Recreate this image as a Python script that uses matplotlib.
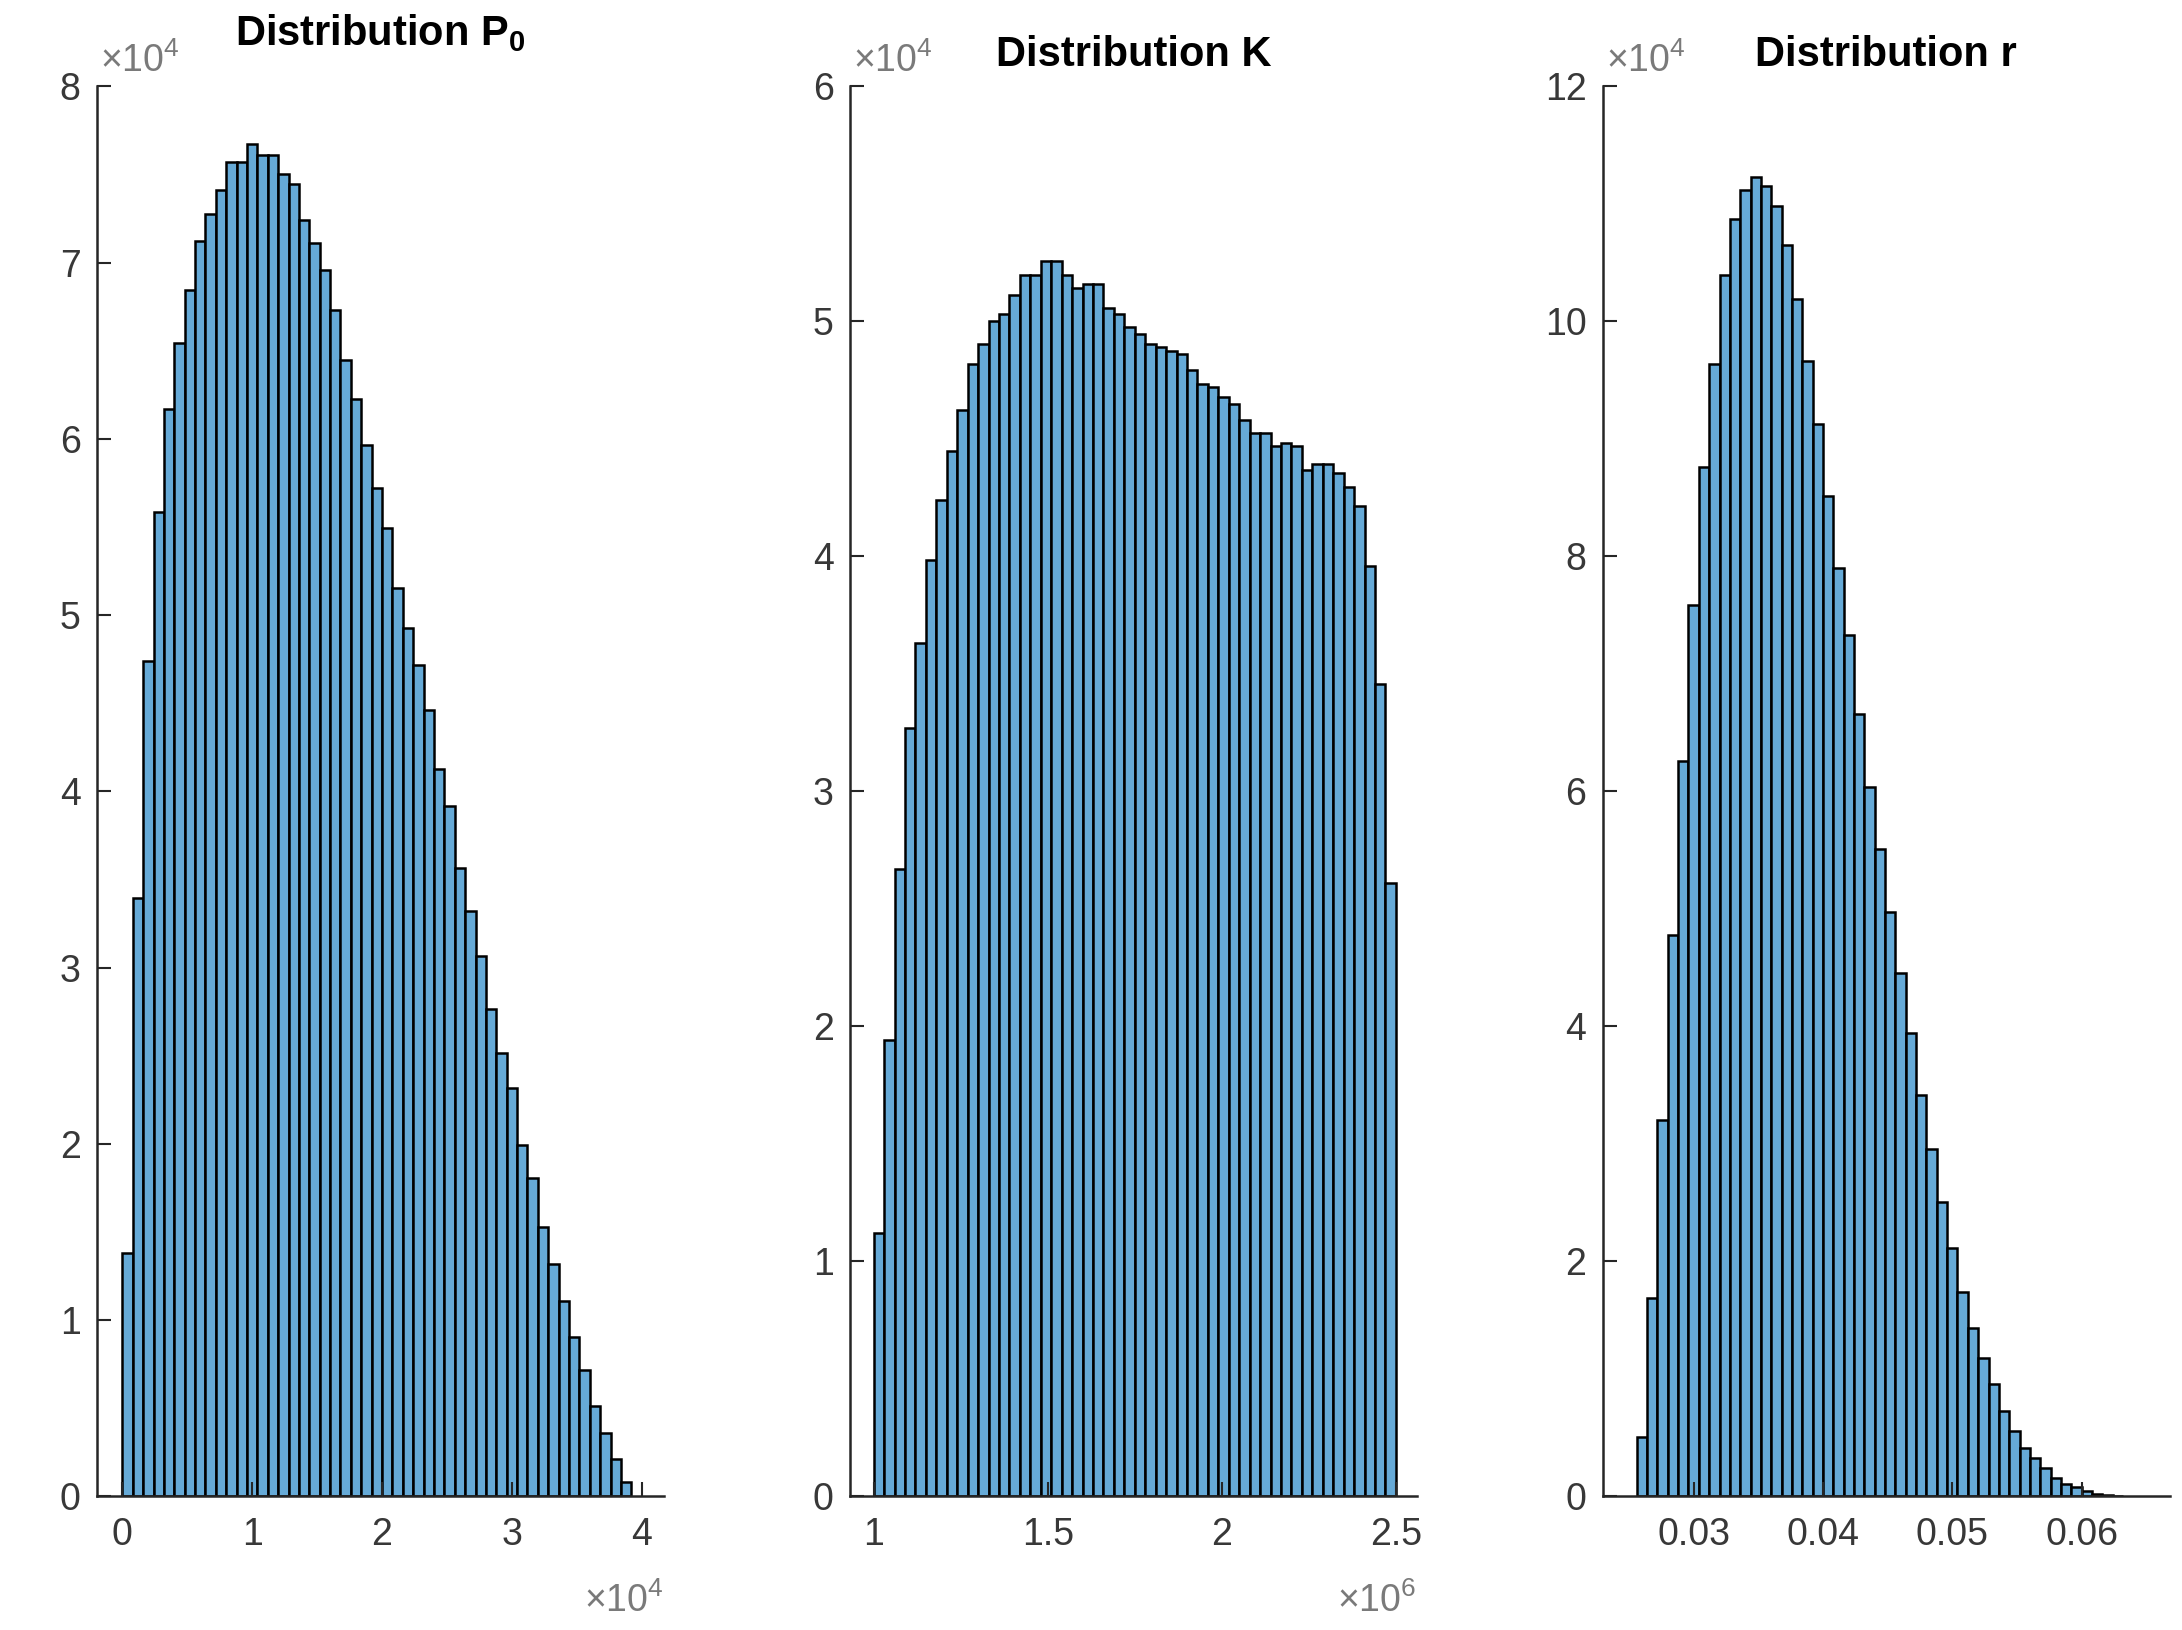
import matplotlib
matplotlib.use("Agg")
import matplotlib.pyplot as plt
import numpy as np
from matplotlib.ticker import FuncFormatter

plt.rcParams['font.family'] = ['Liberation Sans', 'DejaVu Sans']
plt.rcParams['mathtext.fontset'] = 'custom'
plt.rcParams['mathtext.rm'] = 'Liberation Sans'
plt.rcParams['mathtext.it'] = 'Liberation Sans:italic'
plt.rcParams['mathtext.bf'] = 'Liberation Sans:bold'

# ---- data (counts in units of 1e4) ----
# P0 : bins of 800 starting at 0
p0_start, p0_width = 0.0, 800.0
p0_counts = np.array([
    1.38, 3.395, 4.739, 5.586, 6.168, 6.545, 6.843, 7.124, 7.277, 7.41,
    7.573, 7.573, 7.671, 7.61, 7.61, 7.503, 7.444, 7.24, 7.109, 6.956,
    6.734, 6.449, 6.224, 5.963, 5.719, 5.492, 5.152, 4.929, 4.719, 4.46,
    4.125, 3.917, 3.567, 3.321, 3.065, 2.763, 2.518, 2.317, 1.994, 1.805,
    1.527, 1.318, 1.110, 0.903, 0.716, 0.513, 0.362, 0.210, 0.081]) * 1e4

# K : bins of 3e4 starting at 1e6
k_start, k_width = 1.0e6, 3.0e4
k_counts = np.array([
    1.12, 1.94, 2.67, 3.27, 3.633, 3.984, 4.241, 4.450, 4.621, 4.820,
    4.904, 5.0, 5.030, 5.113, 5.199, 5.199, 5.255, 5.255, 5.199, 5.143,
    5.157, 5.157, 5.058, 5.030, 4.974, 4.946, 4.904, 4.890, 4.876, 4.862,
    4.791, 4.735, 4.721, 4.677, 4.649, 4.579, 4.524, 4.524, 4.468, 4.482,
    4.468, 4.366, 4.394, 4.394, 4.354, 4.297, 4.215, 3.958, 3.455, 2.61]) * 1e4

# r : bins of 0.0008 starting at 0.0256
r_start, r_width = 0.0256, 0.0008
r_counts = np.array([
    0.509, 1.69, 3.203, 4.775, 6.258, 7.587, 8.760, 9.638, 10.391, 10.871,
    11.122, 11.232, 11.151, 10.982, 10.649, 10.192, 9.661, 9.129, 8.517, 7.897,
    7.328, 6.657, 6.037, 5.513, 4.974, 4.457, 3.946, 3.414, 2.960, 2.506,
    2.110, 1.743, 1.433, 1.181, 0.954, 0.728, 0.558, 0.414, 0.328, 0.245,
    0.159, 0.108, 0.083, 0.047, 0.022, 0.010, 0.004]) * 1e4

titles = ['Distribution P$_\\mathbf{0}$', 'Distribution K', 'Distribution r']

face = (0.4, 0.668, 0.845)
axcol = '#262626'
labcol = '#383838'
expcol = '#7a7a7a'
fs = 27

fig = plt.figure(figsize=(21.82, 16.30), dpi=100)

lefts = [0.0446, 0.3897, 0.7347]
w, b, h = 0.2596, 0.082, 0.865

panels = [
    (p0_start, p0_width, p0_counts, (-1930, 41700), (0, 8e4), np.arange(0, 4.1e4, 1e4), np.arange(0, 8.1e4, 1e4), 1e4, 1e4),
    (k_start, k_width, k_counts, (0.933e6, 2.56e6), (0, 6e4), [1e6, 1.5e6, 2e6, 2.5e6], np.arange(0, 6.1e4, 1e4), 1e6, 1e4),
    (r_start, r_width, r_counts, (0.0230, 0.0668), (0, 12e4), [0.03, 0.04, 0.05, 0.06], np.arange(0, 12.1e4, 2e4), None, 1e4),
]

for i, (start, width, counts, xl, yl, xt, yt, xscale, yscale) in enumerate(panels):
    ax = fig.add_axes([lefts[i], b, w, h])
    edges = start + width * np.arange(len(counts))
    ax.bar(edges, counts, width=width, align='edge', color=face,
           edgecolor='black', linewidth=1.8)
    ax.set_xlim(*xl)
    ax.set_ylim(*yl)
    ax.set_xticks(xt)
    ax.set_yticks(yt)
    if xscale:
        ax.xaxis.set_major_formatter(FuncFormatter(lambda v, _, s=xscale: f'{v / s:g}'))
    else:
        ax.xaxis.set_major_formatter(FuncFormatter(lambda v, _: f'{v:g}'))
    ax.yaxis.set_major_formatter(FuncFormatter(lambda v, _, s=yscale: f'{v / s:g}'))
    for side in ['top', 'right']:
        ax.spines[side].set_visible(False)
    for side in ['left', 'bottom']:
        ax.spines[side].set_linewidth(1.8)
        ax.spines[side].set_color(axcol)
    ax.tick_params(direction='in', length=10, width=1.5, color=axcol,
                   labelcolor=labcol, labelsize=fs)
    ax.tick_params(axis='x', pad=15)
    ax.tick_params(axis='y', pad=12)
    ax.set_title(titles[i], fontsize=30, fontweight='bold',
                 pad=30 if i == 0 else 15)
    # exponent labels like matlab
    ax.text(0.005, 1.01, '×10$^{4}$', transform=ax.transAxes, fontsize=fs,
            color=expcol, ha='left', va='baseline')
    if xscale:
        ax.text(1.0, -0.082,
                '×10$^{%d}$' % int(np.log10(xscale)), transform=ax.transAxes,
                fontsize=fs, color=expcol, ha='right', va='baseline')

fig.savefig('out.png', dpi=100)
